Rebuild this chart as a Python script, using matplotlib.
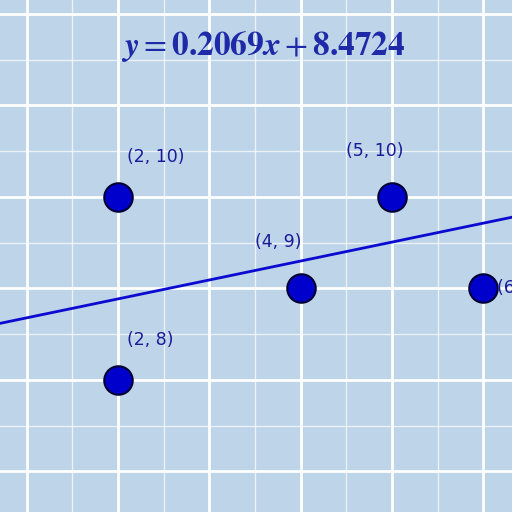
import matplotlib.pyplot as plt
import numpy as np

plt.rcParams['mathtext.fontset'] = 'stix'

xs = [2, 2, 4, 5, 6]
ys = [10, 8, 9, 10, 9]
labels = ["(2, 10)", "(2, 8)", "(4, 9)", "(5, 10)", "(6, 9)"]
label_dx = [0.1, 0.1, -0.5, -0.5, 0.15]
label_dy = [0.38, 0.38, 0.45, 0.45, 0.0]
slope, intercept = 0.2069, 8.4724

fig = plt.figure(figsize=(5.12, 5.12), dpi=100)
ax = fig.add_axes([0, 0, 1, 1])
ax.set_facecolor("#bed4e8")
x0, x1 = 0.707, 6.315
y0, y1 = 6.557, 12.153
ax.set_xlim(x0, x1)
ax.set_ylim(y0, y1)

for v in np.arange(0.5, 7, 0.5):
    major = float(v).is_integer()
    ax.axvline(v, color="white", lw=2.0 if major else 1.0, alpha=1 if major else 0.7, zorder=0)
for v in np.arange(6.5, 12.5, 0.5):
    major = float(v).is_integer()
    ax.axhline(v, color="white", lw=2.0 if major else 1.0, alpha=1 if major else 0.7, zorder=0)

lx = np.array([x0, x1])
ax.plot(lx, slope * lx + intercept, color="#0a0ad0", lw=2, zorder=2)
ax.scatter(xs, ys, s=420, color="#0000cc", edgecolors="#000033", linewidths=1.5, zorder=3)
for x, y, t, dx, dy in zip(xs, ys, labels, label_dx, label_dy):
    ax.text(x + dx, y + dy, t, fontsize=12.5, color="#1a1a9a", zorder=4,
            va="center" if dy == 0 else "baseline")

ax.text(0.515, 0.91, r"$\mathbfit{y} = \mathbf{0.2069}\mathbfit{x} + \mathbf{8.4724}$",
        transform=ax.transAxes, ha="center", va="center", fontsize=24, color="#1f2aa8")
ax.set_xticks([])
ax.set_yticks([])
for s in ax.spines.values():
    s.set_visible(False)
fig.savefig("out.png")
